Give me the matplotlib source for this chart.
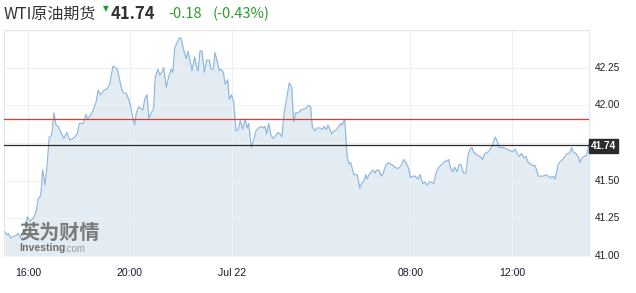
import matplotlib
matplotlib.use("Agg")
import matplotlib.pyplot as plt

# ---- data (trading hours since 15:00, with the 05:00-06:00 break removed) ----
hours = [0.098, 0.165, 0.227, 0.322, 0.424, 0.557, 0.620, 0.714, 0.816, 0.882,
         0.973, 1.078, 1.208, 1.314, 1.404, 1.498, 1.576, 1.667, 1.733, 1.835,
         1.929, 2.020, 2.098, 2.188, 2.322, 2.412, 2.518, 2.647, 2.776, 2.933,
         3.012, 3.169, 3.275, 3.341, 3.431, 3.537, 3.667, 3.757, 3.851, 3.980,
         4.110, 4.204, 4.333, 4.424, 4.502, 4.596, 4.686, 4.765, 4.855, 4.988,
         5.051, 5.118, 5.184, 5.247, 5.341, 5.420, 5.510, 5.576, 5.667, 5.745,
         5.835, 5.929, 5.992, 6.098, 6.165, 6.255, 6.322, 6.424, 6.518, 6.620,
         6.686, 6.753, 6.855, 6.949, 7.012, 7.118, 7.208, 7.275, 7.341, 7.431,
         7.537, 7.639, 7.678, 7.745, 7.824, 7.914, 8.008, 8.110, 8.176, 8.267,
         8.333, 8.439, 8.502, 8.569, 8.659, 8.737, 8.831, 8.894, 8.988, 9.067,
         9.157, 9.247, 9.325, 9.420, 9.510, 9.588, 9.655, 9.757, 9.851, 9.941,
         10.047, 10.137, 10.227, 10.294, 10.361, 10.439, 10.529, 10.620, 10.725, 10.792,
         10.882, 10.961, 11.027, 11.118, 11.247, 11.341, 11.420, 11.498, 11.588, 11.718,
         11.890, 12.020, 12.086, 12.149, 12.243, 12.345, 12.451, 12.541, 12.608, 12.698,
         12.765, 12.843, 12.910, 13.000, 13.106, 13.196, 13.263, 13.325, 13.420, 13.482,
         13.522, 13.588, 13.655, 13.718, 13.784, 13.851, 13.914, 14.008, 14.086, 14.176,
         14.243, 14.306, 14.373, 14.463, 14.541, 14.608, 14.675, 14.765, 14.855, 14.933,
         15.027, 15.129, 15.224, 15.325, 15.380, 15.510, 15.639, 15.733, 15.824, 15.929,
         15.992, 16.086, 16.188, 16.294, 16.384, 16.478, 16.557, 16.647, 16.737, 16.816,
         16.910, 17.000, 17.078, 17.169, 17.263, 17.341, 17.431, 17.498, 17.561, 17.655,
         17.733, 17.824, 17.914, 17.992, 18.086, 18.176, 18.255, 18.345, 18.412, 18.478,
         18.608, 18.737, 18.831, 18.910, 19.039, 19.169, 19.224, 19.314, 19.380, 19.482,
         19.639, 19.773, 19.902, 20.008, 20.098, 20.188, 20.267, 20.361, 20.451, 20.529,
         20.620, 20.714, 20.792, 20.882, 20.949, 21.012, 21.106, 21.208, 21.314, 21.404,
         21.498, 21.600, 21.667, 21.733, 21.796, 21.890, 21.969, 22.059, 22.149, 22.227,
         22.322, 22.384, 22.490, 22.580, 22.647, 22.714, 22.804, 22.910, 23.000]
prices = [41.16, 41.14, 41.15, 41.12, 41.13, 41.14, 41.15, 41.12, 41.17, 41.15,
          41.26, 41.23, 41.25, 41.29, 41.38, 41.40, 41.57, 41.47, 41.57, 41.79,
          41.80, 41.95, 41.87, 41.86, 41.81, 41.78, 41.82, 41.77, 41.78, 41.81,
          41.88, 41.88, 41.94, 41.91, 41.93, 41.96, 42.02, 42.10, 42.07, 42.10,
          42.11, 42.14, 42.26, 42.25, 42.24, 42.17, 42.10, 42.08, 42.08, 42.02,
          41.97, 41.91, 41.87, 41.95, 41.99, 41.98, 41.97, 42.04, 42.07, 41.91,
          41.95, 41.98, 42.19, 42.24, 42.20, 42.22, 42.25, 42.12, 42.19, 42.24,
          42.22, 42.38, 42.42, 42.45, 42.44, 42.36, 42.31, 42.36, 42.31, 42.23,
          42.32, 42.24, 42.23, 42.36, 42.36, 42.22, 42.30, 42.30, 42.24, 42.24,
          42.35, 42.28, 42.23, 42.24, 42.22, 42.14, 42.17, 42.04, 42.07, 42.02,
          41.83, 41.84, 41.90, 41.84, 41.91, 41.85, 41.88, 41.72, 41.77, 41.83,
          41.85, 41.86, 41.85, 41.86, 41.81, 41.88, 41.80, 41.78, 41.80, 41.82,
          41.81, 41.79, 41.93, 42.02, 42.15, 42.12, 41.89, 41.95, 41.95, 41.97,
          41.98, 42.00, 41.99, 41.86, 41.83, 41.85, 41.85, 41.84, 41.86, 41.84,
          41.87, 41.84, 41.81, 41.83, 41.84, 41.86, 41.88, 41.87, 41.91, 41.74,
          41.66, 41.61, 41.62, 41.58, 41.54, 41.54, 41.54, 41.45, 41.48, 41.50,
          41.54, 41.51, 41.54, 41.56, 41.57, 41.55, 41.57, 41.57, 41.53, 41.55,
          41.60, 41.62, 41.61, 41.60, 41.59, 41.58, 41.60, 41.64, 41.62, 41.58,
          41.52, 41.53, 41.53, 41.51, 41.54, 41.48, 41.49, 41.47, 41.49, 41.49,
          41.48, 41.55, 41.58, 41.60, 41.61, 41.63, 41.63, 41.64, 41.59, 41.56,
          41.59, 41.56, 41.61, 41.60, 41.55, 41.55, 41.67, 41.71, 41.72, 41.69,
          41.67, 41.66, 41.64, 41.68, 41.69, 41.72, 41.74, 41.79, 41.77, 41.72,
          41.72, 41.71, 41.70, 41.69, 41.71, 41.68, 41.66, 41.68, 41.65, 41.66,
          41.62, 41.61, 41.60, 41.60, 41.57, 41.53, 41.53, 41.53, 41.54, 41.53,
          41.52, 41.53, 41.51, 41.56, 41.61, 41.63, 41.64, 41.66, 41.68, 41.68,
          41.72, 41.69, 41.68, 41.66, 41.62, 41.65, 41.66, 41.67, 41.74]

tick_pos = [1, 5, 9, 16, 20]
tick_labels = ["16:00", "20:00", "Jul 22", "08:00", "12:00"]
y_ticks = [41.00, 41.25, 41.50, 41.75, 42.00, 42.25]
y_labels = ["41.00", "41.25", "41.50", "", "42.00", "42.25"]
last_price = 41.74
ref_price = 41.912
title_name = "WTI原油期货"
price_text = "41.74"
change_text = "-0.18"
pct_text = "(-0.43%)"

W, H = 636, 293
fig = plt.figure(figsize=(W / 100, H / 100), dpi=100)
fig.patch.set_facecolor("white")
ax = fig.add_axes([4 / W, 1 - 256 / H, (589 - 4) / W, (256 - 30) / H])
ax.set_facecolor("white")

ax.fill_between(hours, prices, 41.0, color="#e4ecf3", lw=0, zorder=1)
ax.plot(hours, prices, color="#8db7df", lw=0.85, zorder=3)

ax.set_xlim(0.06, 23.0)
ax.set_ylim(41.0, 42.5)

for yv in y_ticks[1:]:
    ax.axhline(yv, color="#eef1f4", lw=0.8, zorder=2)
for xv in tick_pos:
    ax.axvline(xv, color="#eef1f4", lw=0.8, zorder=2)

ax.axhline(ref_price, color="#dc3b35", lw=0.9, zorder=4)
ax.axhline(last_price, color="#2b2b2b", lw=0.9, zorder=4)

ax.set_xticks(tick_pos)
ax.set_xticklabels(tick_labels, fontfamily="Liberation Sans", fontsize=7.6, color="#1a1a2e")
ax.yaxis.tick_right()
ax.set_yticks(y_ticks)
ax.set_yticklabels(y_labels, fontfamily="Liberation Sans", fontsize=7.3, color="#222222")
ax.tick_params(axis="both", length=0)
ax.tick_params(axis="x", pad=9)
ax.tick_params(axis="y", pad=4.5)
for lbl in ax.get_yticklabels():
    lbl.set_verticalalignment("center")

for side in ["left", "top", "right"]:
    ax.spines[side].set_color("#e3e6e9")
    ax.spines[side].set_linewidth(0.8)
ax.spines["bottom"].set_visible(False)

# last price box
fig.text(591 / W, 1 - 146 / H, price_text, fontfamily="Liberation Sans", fontsize=7.3,
         fontweight="bold", color="white", va="center", ha="left",
         bbox=dict(boxstyle="square,pad=0.22", facecolor="#2b2b2b", edgecolor="#2b2b2b"))

# header
fam = ["Noto Sans CJK SC", "DejaVu Sans"]
fig.text(4 / W, 1 - 14 / H, title_name, fontfamily=fam, fontsize=11.5, color="#333333",
         va="center", ha="left")
fig.text(106 / W, 1 - 9 / H, "▼", fontfamily="DejaVu Sans", fontsize=5.5, color="#1c9b3a",
         va="center", ha="center")
fig.text(111 / W, 1 - 14 / H, price_text, fontfamily=fam, fontsize=12, fontweight="bold",
         color="#333333", va="center", ha="left")
fig.text(168 / W, 1 - 14 / H, change_text, fontfamily=fam, fontsize=10.5, color="#2a9d2a",
         va="center", ha="left")
fig.text(213 / W, 1 - 14 / H, pct_text, fontfamily=fam, fontsize=10.5, color="#2a9d2a",
         va="center", ha="left")

# watermark
fig.text(19 / W, 1 - 232 / H, "英为财情", fontfamily=fam, fontsize=14.5, fontweight="bold",
         color="#6e6e6e", va="center", ha="left", alpha=0.9, zorder=10)
fig.text(19 / W, 1 - 248 / H, "Investing", fontfamily="Liberation Sans", fontsize=7.6,
         fontweight="bold", color="#6e6e6e", va="center", ha="left", zorder=10)
fig.text(64 / W, 1 - 249 / H, ".com", fontfamily="Liberation Sans", fontsize=7,
         color="#9a9a9a", va="center", ha="left", zorder=10)

fig.savefig("out.png", dpi=100, facecolor="white")
